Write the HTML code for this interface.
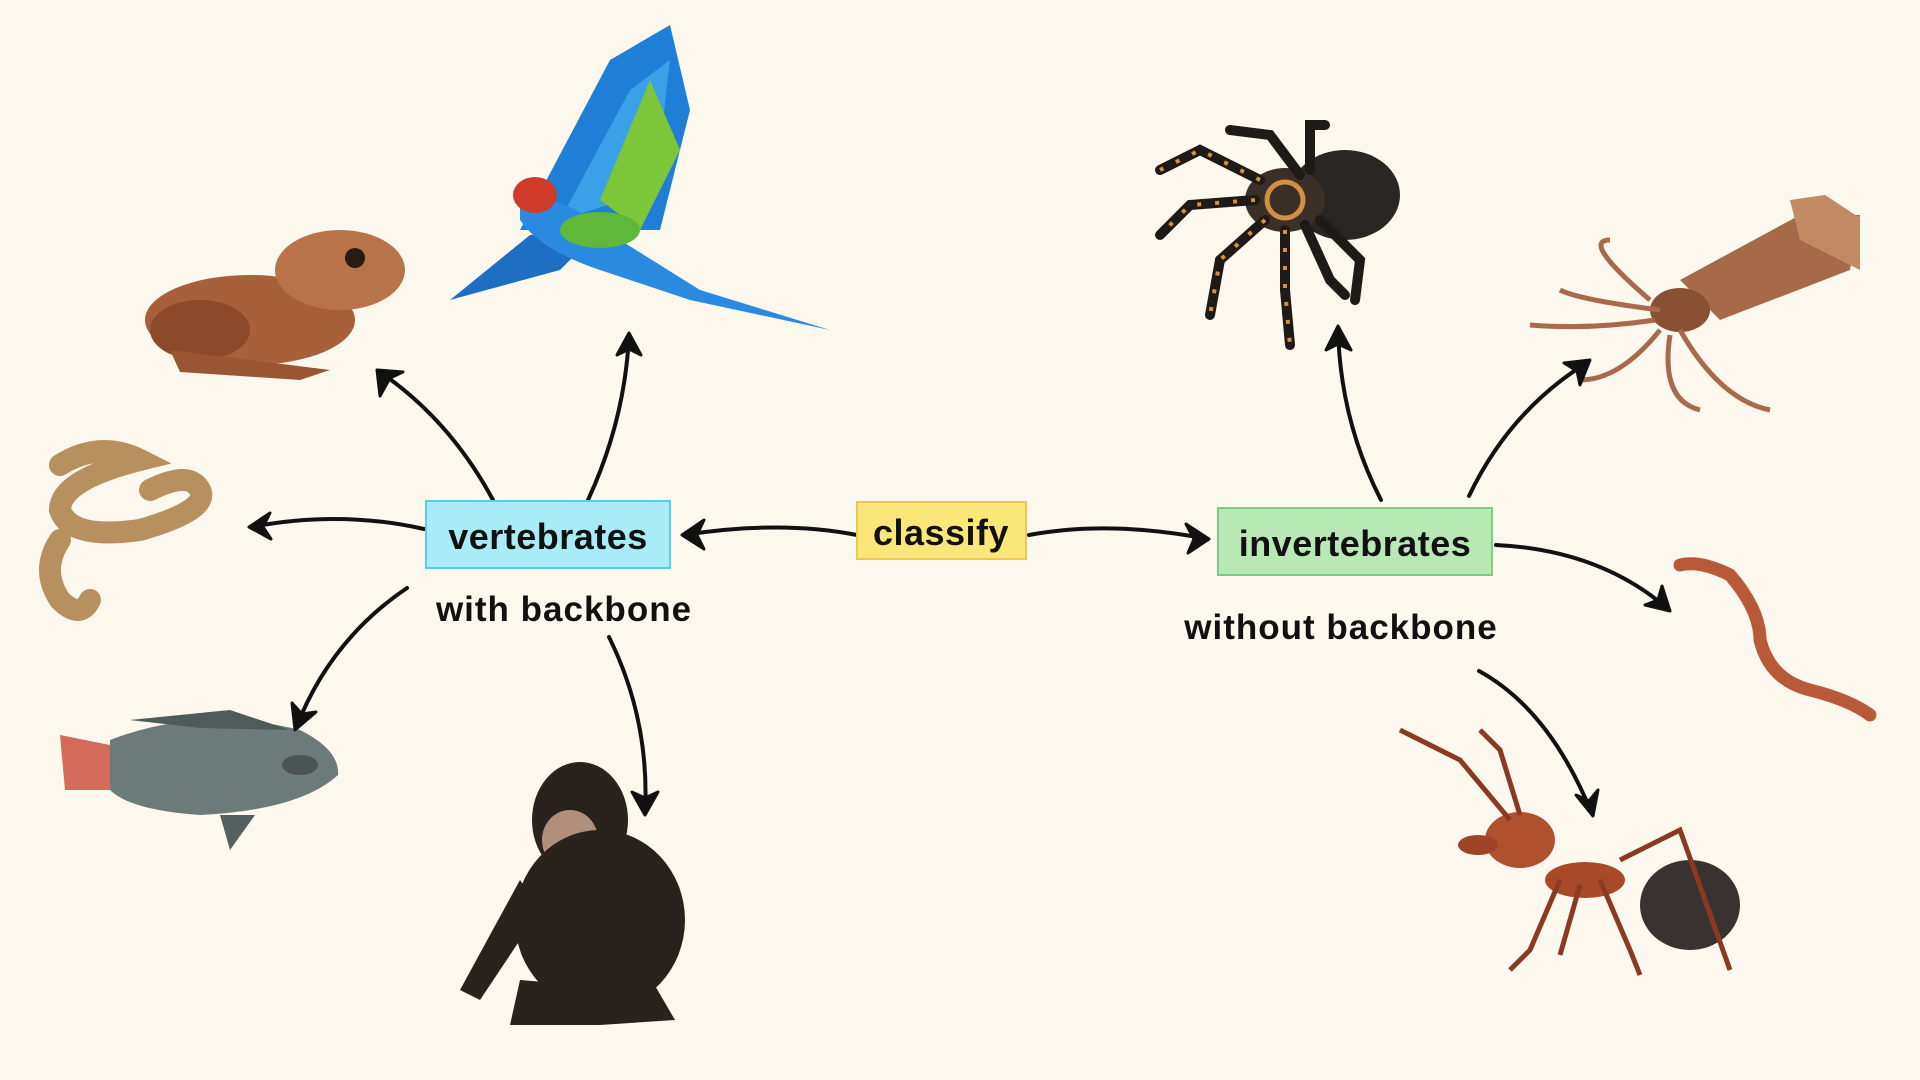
<!DOCTYPE html>
<html><head><meta charset="utf-8"><style>
html,body{margin:0;padding:0;background:#fcf8ee;}
svg{display:block}
text{font-family:"Liberation Sans",sans-serif;}
</style></head><body>
<svg width="1920" height="1080" viewBox="0 0 1920 1080" xmlns="http://www.w3.org/2000/svg">
<rect width="1920" height="1080" fill="#fcf8ee"/>

<!-- parrot -->
<g>
<path d="M520 230 L610 60 L670 25 L690 110 L660 230 Z" fill="#1f7fd6"/>
<path d="M560 220 L630 90 L670 60 L655 190 Z" fill="#3aa0e8"/>
<path d="M600 200 L650 80 L680 150 L640 230 Z" fill="#7cc63a"/>
<path d="M450 300 L530 235 L600 230 L560 270 Z" fill="#1e6fc4"/>
<path d="M520 200 Q560 190 620 240 L700 290 L830 330 L690 300 L600 270 Q540 250 520 220 Z" fill="#2a8ae0"/>
<ellipse cx="535" cy="195" rx="22" ry="18" fill="#d03a2a"/>
<ellipse cx="600" cy="230" rx="40" ry="18" fill="#5fb83a"/>
</g>

<!-- frog -->
<g>
<ellipse cx="250" cy="320" rx="105" ry="45" fill="#a8603a"/>
<ellipse cx="340" cy="270" rx="65" ry="40" fill="#b8734a"/>
<ellipse cx="200" cy="330" rx="50" ry="30" fill="#8c4a2a"/>
<circle cx="355" cy="258" r="10" fill="#2a1a10"/>
<path d="M170 350 L330 370 L360 360 L300 380 L180 372 Z" fill="#9a5532"/>
</g>

<!-- snake -->
<g fill="none" stroke="#b89060" stroke-width="22" stroke-linecap="round">
<path d="M60 465 Q100 440 140 460 Q60 480 60 510 Q70 540 140 530 Q210 510 200 490 Q190 470 150 490"/>
<path d="M60 540 Q40 570 60 600 Q80 620 90 600"/>
</g>

<!-- fish -->
<g>
<path d="M110 740 Q200 705 300 730 Q340 750 338 775 Q300 810 200 815 Q130 810 110 790 Z" fill="#6d7a7a"/>
<path d="M110 745 L60 735 L65 790 L110 790 Z" fill="#d46a5a"/>
<path d="M130 720 L230 710 L290 730 L200 728 Z" fill="#4f5a5a"/>
<path d="M220 815 L230 850 L255 815 Z" fill="#556060"/>
<ellipse cx="300" cy="765" rx="18" ry="10" fill="#4a5454"/>
</g>

<!-- chimp -->
<g fill="#2a221c">
<ellipse cx="580" cy="820" rx="48" ry="58"/>
<ellipse cx="570" cy="840" rx="28" ry="30" fill="#b0907a"/>
<ellipse cx="600" cy="920" rx="85" ry="90"/>
<path d="M520 880 L460 990 L480 1000 L540 910 Z"/>
<path d="M520 980 L510 1025 L600 1025 L640 990 Z"/>
<path d="M640 960 L675 1020 L600 1025 Z"/>
</g>

<!-- spider -->
<g>
<ellipse cx="1345" cy="195" rx="55" ry="45" fill="#2a2624"/>
<ellipse cx="1285" cy="200" rx="40" ry="32" fill="#3a3028"/>
<circle cx="1285" cy="200" r="18" fill="none" stroke="#d29040" stroke-width="5"/>
<g stroke="#1e1a18" stroke-width="10" stroke-linecap="round" fill="none">
<path d="M1260 180 L1200 150 L1160 170"/>
<path d="M1255 200 L1190 205 L1160 235"/>
<path d="M1265 220 L1220 260 L1210 315"/>
<path d="M1285 230 L1285 290 L1290 345"/>
<path d="M1305 225 L1330 280 L1345 295"/>
<path d="M1300 175 L1270 135 L1230 130"/>
<path d="M1310 170 L1310 125 L1325 125"/>
<path d="M1320 220 L1360 260 L1355 300"/>
</g>
<g stroke="#d29040" stroke-width="4" stroke-dasharray="4 14" fill="none">
<path d="M1260 180 L1200 150 L1160 170"/>
<path d="M1255 200 L1190 205 L1160 235"/>
<path d="M1265 220 L1220 260 L1210 315"/>
<path d="M1285 230 L1285 290 L1290 345"/>
</g>
</g>

<!-- squid -->
<g>
<path d="M1680 280 L1800 215 L1860 215 L1850 270 L1720 320 Z" fill="#a66a48"/>
<path d="M1790 200 L1800 240 L1860 270 L1860 218 L1825 195 Z" fill="#c28a62"/>
<ellipse cx="1680" cy="310" rx="30" ry="22" fill="#8a5034"/>
<g stroke="#a86a4a" stroke-width="5" fill="none">
<path d="M1660 310 Q1580 300 1560 290"/>
<path d="M1655 320 Q1590 330 1530 325"/>
<path d="M1660 330 Q1620 380 1580 380"/>
<path d="M1670 335 Q1660 400 1700 410"/>
<path d="M1680 330 Q1720 400 1770 410"/>
<path d="M1650 300 Q1580 240 1610 240"/>
</g>
</g>

<!-- worm -->
<path d="M1680 565 Q1700 560 1730 575 Q1760 610 1760 640 Q1770 680 1810 690 Q1850 700 1870 715" fill="none" stroke="#b85a3a" stroke-width="13" stroke-linecap="round"/>

<!-- ant -->
<g>
<ellipse cx="1690" cy="905" rx="50" ry="45" fill="#3a3230"/>
<ellipse cx="1585" cy="880" rx="40" ry="18" fill="#a84a2a"/>
<ellipse cx="1520" cy="840" rx="35" ry="28" fill="#b0502e"/>
<ellipse cx="1478" cy="845" rx="20" ry="10" fill="#a04428"/>
<g stroke="#8a3a22" stroke-width="5" fill="none">
<path d="M1510 820 L1460 760 L1400 730"/>
<path d="M1520 815 L1500 750 L1480 730"/>
<path d="M1560 880 L1530 950 L1510 970"/>
<path d="M1580 885 L1560 955"/>
<path d="M1600 880 L1630 950 L1640 975"/>
<path d="M1620 860 L1680 830 L1730 970"/>
</g>
</g>

<!-- arrows -->
<g fill="none" stroke="#111" stroke-width="4" stroke-linecap="round" stroke-linejoin="round">
<path d="M857 535 Q780 520 684 535"/>
<path d="M1029 535 Q1110 520 1208 539"/>
<path d="M493 500 Q450 420 380 372"/>
<path d="M588 500 Q625 420 629 335"/>
<path d="M424 529 Q340 510 251 527"/>
<path d="M407 588 Q330 640 296 728"/>
<path d="M609 637 Q650 720 645 813"/>
<path d="M1381 500 Q1340 420 1338 328"/>
<path d="M1469 496 Q1510 410 1588 362"/>
<path d="M1496 545 Q1600 550 1668 609"/>
<path d="M1479 671 Q1550 710 1592 814"/>
</g>
<g fill="#111" stroke="#111" stroke-width="3" stroke-linejoin="round">
<path d="M704 520 L682 535 L704 549 L697 535 Z"/>
<path d="M1186 524 L1209 539 L1188 553 L1194 539 Z"/>
<path d="M380 396 L377 370 L403 372 L390 378 Z"/>
<path d="M617 355 L629 333 L641 355 L629 349 Z"/>
<path d="M270 513 L249 527 L271 539 L263 527 Z"/>
<path d="M292 703 L295 730 L316 712 L302 714 Z"/>
<path d="M632 792 L645 815 L658 792 L645 798 Z"/>
<path d="M1326 350 L1338 326 L1351 350 L1338 344 Z"/>
<path d="M1564 363 L1590 360 L1580 385 L1577 371 Z"/>
<path d="M1645 605 L1670 611 L1662 586 L1658 600 Z"/>
<path d="M1576 795 L1593 816 L1598 790 L1589 801 Z"/>
</g>

<!-- boxes -->
<rect x="857" y="502" width="169" height="57" fill="#fbe67a" stroke="#eacb48" stroke-width="2"/>
<text x="941" y="545" font-size="36" font-weight="bold" letter-spacing="0.5" text-anchor="middle" fill="#111">classify</text>
<rect x="426" y="501" width="244" height="67" fill="#a9ecf8" stroke="#56cfe6" stroke-width="2"/>
<text x="548" y="549" font-size="36" font-weight="bold" letter-spacing="0.5" text-anchor="middle" fill="#111">vertebrates</text>
<rect x="1218" y="508" width="274" height="67" fill="#b8e8b4" stroke="#7ccd86" stroke-width="2"/>
<text x="1355" y="556" font-size="36" font-weight="bold" letter-spacing="0.5" text-anchor="middle" fill="#111">invertebrates</text>
<text x="564" y="621" font-size="35" font-weight="bold" letter-spacing="1" text-anchor="middle" fill="#111">with backbone</text>
<text x="1341" y="639" font-size="35" font-weight="bold" letter-spacing="1" text-anchor="middle" fill="#111">without backbone</text>
</svg>
</body></html>
